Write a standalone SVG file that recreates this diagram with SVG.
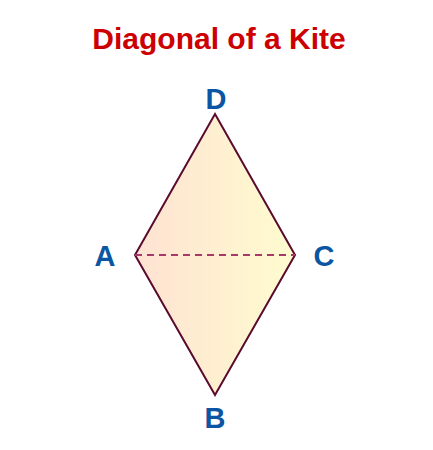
<svg xmlns="http://www.w3.org/2000/svg" width="433" height="450" viewBox="0 0 433 450">
<style>
.title{font-family:"Liberation Sans",Arial,sans-serif;font-weight:bold;font-size:30px;fill:#CC0000;text-anchor:middle}
.lbl{font-family:"Liberation Sans",Arial,sans-serif;font-weight:bold;font-size:29px;fill:#0B55A3;text-anchor:middle}
.kite{stroke:#5A0A2E;stroke-width:2;stroke-linejoin:miter}
.diag{stroke:#A8386A;stroke-width:2;stroke-dasharray:7,5;fill:none}
</style>
<defs>
<linearGradient id="g" x1="0" y1="0" x2="1" y2="0">
<stop offset="0" stop-color="#FEE2D2"/>
<stop offset="1" stop-color="#FFFCCF"/>
</linearGradient>
</defs>
<rect width="433" height="450" fill="#FFFFFF"/>
<text class="title" x="219" y="49">Diagonal of a Kite</text>
<g id="kite">
<polygon class="kite" points="215,114 295,255 215,395 135,255" fill="url(#g)"/>
</g>
<g id="connectors">
<line class="diag" x1="135" y1="255" x2="295" y2="255"/>
</g>
<g id="D"><text class="lbl" x="216" y="109">D</text></g>
<g id="A"><text class="lbl" x="105" y="266">A</text></g>
<g id="C"><text class="lbl" x="324" y="266">C</text></g>
<g id="B"><text class="lbl" x="215" y="428">B</text></g>
</svg>
